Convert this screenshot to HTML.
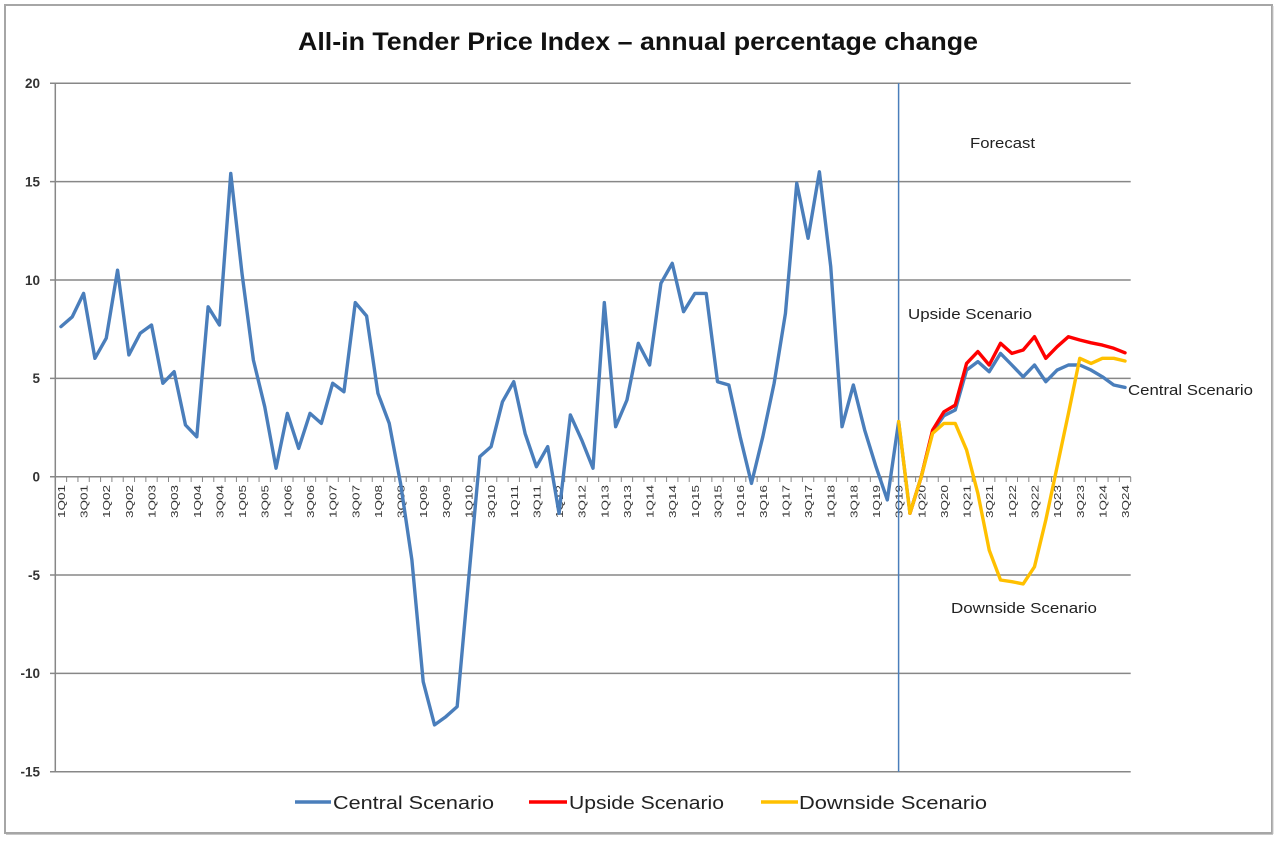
<!DOCTYPE html>
<html>
<head>
<meta charset="utf-8">
<style>
html,body{margin:0;padding:0;background:#fff;}
svg{display:block;}
text{font-family:"Liberation Sans",sans-serif;}
</style>
</head>
<body>
<svg width="1280" height="841" viewBox="0 0 1280 841" xmlns="http://www.w3.org/2000/svg" font-family="Liberation Sans, sans-serif">
<rect x="0" y="0" width="1280" height="841" fill="#fff"/>
<!-- frame -->
<rect x="5" y="5" width="1267" height="828" fill="#fff" stroke="#a6a6a6" stroke-width="2"/>
<line x1="1273" y1="6" x2="1273" y2="834" stroke="#c8c8c8" stroke-width="1"/>
<line x1="6" y1="834.5" x2="1273" y2="834.5" stroke="#c8c8c8" stroke-width="1"/>

<!-- title -->
<text x="298" y="50" font-family="Liberation Sans, sans-serif" font-size="25" font-weight="bold" fill="#111" textLength="680" lengthAdjust="spacingAndGlyphs">All-in Tender Price Index – annual percentage change</text>

<!-- gridlines -->
<g stroke="#878787" stroke-width="1.5">
<line x1="50" y1="83.3" x2="1130.7" y2="83.3"/>
<line x1="50" y1="181.65" x2="1130.7" y2="181.65"/>
<line x1="50" y1="280" x2="1130.7" y2="280"/>
<line x1="50" y1="378.35" x2="1130.7" y2="378.35"/>
<line x1="50" y1="476.7" x2="1130.7" y2="476.7"/>
<line x1="50" y1="575.05" x2="1130.7" y2="575.05"/>
<line x1="50" y1="673.4" x2="1130.7" y2="673.4"/>
<line x1="50" y1="771.75" x2="1130.7" y2="771.75"/>
<line x1="55.3" y1="83.3" x2="55.3" y2="771.75"/>
</g>
<!-- x tick marks -->
<line x1="54.8" y1="479.5" x2="1131.5" y2="479.5" stroke="#878787" stroke-width="5" stroke-dasharray="1 10.32"/>

<!-- y labels -->
<g font-family="Liberation Sans, sans-serif" font-size="13.5" fill="#333" text-anchor="end" font-weight="bold">
<text x="40" y="88">20</text>
<text x="40" y="186.5">15</text>
<text x="40" y="285">10</text>
<text x="40" y="383">5</text>
<text x="40" y="481.5">0</text>
<text x="40" y="580">-5</text>
<text x="40" y="678">-10</text>
<text x="40" y="776.5">-15</text>
</g>

<!-- x labels -->
<g font-family="Liberation Sans, sans-serif" font-size="10.5" fill="#333" text-anchor="end">
<text transform="translate(64.96,485) rotate(-90)" textLength="33" lengthAdjust="spacingAndGlyphs">1Q01</text>
<text transform="translate(87.60,485) rotate(-90)" textLength="33" lengthAdjust="spacingAndGlyphs">3Q01</text>
<text transform="translate(110.24,485) rotate(-90)" textLength="33" lengthAdjust="spacingAndGlyphs">1Q02</text>
<text transform="translate(132.88,485) rotate(-90)" textLength="33" lengthAdjust="spacingAndGlyphs">3Q02</text>
<text transform="translate(155.52,485) rotate(-90)" textLength="33" lengthAdjust="spacingAndGlyphs">1Q03</text>
<text transform="translate(178.16,485) rotate(-90)" textLength="33" lengthAdjust="spacingAndGlyphs">3Q03</text>
<text transform="translate(200.80,485) rotate(-90)" textLength="33" lengthAdjust="spacingAndGlyphs">1Q04</text>
<text transform="translate(223.44,485) rotate(-90)" textLength="33" lengthAdjust="spacingAndGlyphs">3Q04</text>
<text transform="translate(246.08,485) rotate(-90)" textLength="33" lengthAdjust="spacingAndGlyphs">1Q05</text>
<text transform="translate(268.72,485) rotate(-90)" textLength="33" lengthAdjust="spacingAndGlyphs">3Q05</text>
<text transform="translate(291.36,485) rotate(-90)" textLength="33" lengthAdjust="spacingAndGlyphs">1Q06</text>
<text transform="translate(314.00,485) rotate(-90)" textLength="33" lengthAdjust="spacingAndGlyphs">3Q06</text>
<text transform="translate(336.64,485) rotate(-90)" textLength="33" lengthAdjust="spacingAndGlyphs">1Q07</text>
<text transform="translate(359.28,485) rotate(-90)" textLength="33" lengthAdjust="spacingAndGlyphs">3Q07</text>
<text transform="translate(381.92,485) rotate(-90)" textLength="33" lengthAdjust="spacingAndGlyphs">1Q08</text>
<text transform="translate(404.56,485) rotate(-90)" textLength="33" lengthAdjust="spacingAndGlyphs">3Q08</text>
<text transform="translate(427.20,485) rotate(-90)" textLength="33" lengthAdjust="spacingAndGlyphs">1Q09</text>
<text transform="translate(449.84,485) rotate(-90)" textLength="33" lengthAdjust="spacingAndGlyphs">3Q09</text>
<text transform="translate(472.48,485) rotate(-90)" textLength="33" lengthAdjust="spacingAndGlyphs">1Q10</text>
<text transform="translate(495.12,485) rotate(-90)" textLength="33" lengthAdjust="spacingAndGlyphs">3Q10</text>
<text transform="translate(517.76,485) rotate(-90)" textLength="33" lengthAdjust="spacingAndGlyphs">1Q11</text>
<text transform="translate(540.40,485) rotate(-90)" textLength="33" lengthAdjust="spacingAndGlyphs">3Q11</text>
<text transform="translate(563.04,485) rotate(-90)" textLength="33" lengthAdjust="spacingAndGlyphs">1Q12</text>
<text transform="translate(585.68,485) rotate(-90)" textLength="33" lengthAdjust="spacingAndGlyphs">3Q12</text>
<text transform="translate(608.32,485) rotate(-90)" textLength="33" lengthAdjust="spacingAndGlyphs">1Q13</text>
<text transform="translate(630.96,485) rotate(-90)" textLength="33" lengthAdjust="spacingAndGlyphs">3Q13</text>
<text transform="translate(653.60,485) rotate(-90)" textLength="33" lengthAdjust="spacingAndGlyphs">1Q14</text>
<text transform="translate(676.24,485) rotate(-90)" textLength="33" lengthAdjust="spacingAndGlyphs">3Q14</text>
<text transform="translate(698.88,485) rotate(-90)" textLength="33" lengthAdjust="spacingAndGlyphs">1Q15</text>
<text transform="translate(721.52,485) rotate(-90)" textLength="33" lengthAdjust="spacingAndGlyphs">3Q15</text>
<text transform="translate(744.16,485) rotate(-90)" textLength="33" lengthAdjust="spacingAndGlyphs">1Q16</text>
<text transform="translate(766.80,485) rotate(-90)" textLength="33" lengthAdjust="spacingAndGlyphs">3Q16</text>
<text transform="translate(789.44,485) rotate(-90)" textLength="33" lengthAdjust="spacingAndGlyphs">1Q17</text>
<text transform="translate(812.08,485) rotate(-90)" textLength="33" lengthAdjust="spacingAndGlyphs">3Q17</text>
<text transform="translate(834.72,485) rotate(-90)" textLength="33" lengthAdjust="spacingAndGlyphs">1Q18</text>
<text transform="translate(857.36,485) rotate(-90)" textLength="33" lengthAdjust="spacingAndGlyphs">3Q18</text>
<text transform="translate(880.00,485) rotate(-90)" textLength="33" lengthAdjust="spacingAndGlyphs">1Q19</text>
<text transform="translate(902.64,485) rotate(-90)" textLength="33" lengthAdjust="spacingAndGlyphs">3Q19</text>
<text transform="translate(925.28,485) rotate(-90)" textLength="33" lengthAdjust="spacingAndGlyphs">1Q20</text>
<text transform="translate(947.92,485) rotate(-90)" textLength="33" lengthAdjust="spacingAndGlyphs">3Q20</text>
<text transform="translate(970.56,485) rotate(-90)" textLength="33" lengthAdjust="spacingAndGlyphs">1Q21</text>
<text transform="translate(993.20,485) rotate(-90)" textLength="33" lengthAdjust="spacingAndGlyphs">3Q21</text>
<text transform="translate(1015.84,485) rotate(-90)" textLength="33" lengthAdjust="spacingAndGlyphs">1Q22</text>
<text transform="translate(1038.48,485) rotate(-90)" textLength="33" lengthAdjust="spacingAndGlyphs">3Q22</text>
<text transform="translate(1061.12,485) rotate(-90)" textLength="33" lengthAdjust="spacingAndGlyphs">1Q23</text>
<text transform="translate(1083.76,485) rotate(-90)" textLength="33" lengthAdjust="spacingAndGlyphs">3Q23</text>
<text transform="translate(1106.40,485) rotate(-90)" textLength="33" lengthAdjust="spacingAndGlyphs">1Q24</text>
<text transform="translate(1129.04,485) rotate(-90)" textLength="33" lengthAdjust="spacingAndGlyphs">3Q24</text>
</g>

<!-- forecast divider -->
<line x1="898.6" y1="83.3" x2="898.6" y2="771.75" stroke="#4a7ebb" stroke-width="1.5"/>

<!-- central -->
<polyline fill="none" stroke="#4a7ebb" stroke-width="3.4" stroke-linejoin="round" stroke-linecap="round" points="
60.96,326.6 72.28,316.8 83.60,293.4 94.92,358.3 106.24,338.2 117.56,270.2 128.88,354.9 140.20,333.3 151.52,325.0 162.84,383.3
174.16,371.7 185.48,425.0 196.80,436.8 208.12,306.8 219.44,325.0 230.76,173.4 242.08,274.1 253.40,360.1 264.72,406.7 276.04,468.2
287.36,413.4 298.68,448.4 310.00,413.4 321.32,423.4 332.64,383.3 343.96,391.7 355.28,302.6 366.60,316.0 377.92,393.3 389.24,423.4
400.56,483.4 411.88,559.9 423.20,681.7 434.52,724.9 445.84,716.7 457.16,706.6 468.48,581.0 479.80,456.6 491.12,446.6 502.44,401.8
513.76,381.7 525.08,433.4 536.40,466.7 547.72,446.6 559.04,513.3 570.36,414.9 581.68,439.9 593.00,468.2 604.32,302.6 615.64,426.7
626.96,400.0 638.28,343.3 649.60,365.0 660.92,283.3 672.24,263.3 683.56,311.7 694.88,293.4 706.20,293.4 717.52,381.7 728.84,385.0
740.16,436.8 751.48,483.4 762.80,436.8 774.12,383.3 785.44,313.4 796.76,183.2 808.08,238.3 819.40,171.8 830.72,266.6 842.04,426.7
853.36,385.0 864.68,430.1 876.00,466.7 887.32,499.9 898.64,421.6 909.96,513.3 921.28,476.7 932.60,431.7 943.92,415.7 955.24,410.0
966.56,370.1 977.88,361.6 989.20,371.7 1000.52,353.4 1011.84,365.0 1023.16,376.8 1034.48,365.0 1045.80,381.7 1057.12,370.1 1068.44,365.0
1079.76,365.0 1091.08,370.1 1102.40,376.8 1113.72,385.0 1125.04,387.4"/>

<!-- upside -->
<polyline fill="none" stroke="#ff0000" stroke-width="3.4" stroke-linejoin="round" stroke-linecap="round" points="
909.96,513.3 921.28,476.7 932.60,430.1 943.92,411.8 955.24,405.1 966.56,363.4 977.88,351.6 989.20,365.0 1000.52,343.3 1011.84,353.4
1023.16,350.0 1034.48,336.7 1045.80,358.3 1057.12,346.7 1068.44,336.7 1079.76,340.0 1091.08,342.8 1102.40,345.1 1113.72,348.3 1125.04,352.8"/>

<!-- downside -->
<polyline fill="none" stroke="#ffc000" stroke-width="3.4" stroke-linejoin="round" stroke-linecap="round" points="
898.64,421.6 909.96,513.3 921.28,476.7 932.60,433.4 943.92,423.4 955.24,423.4 966.56,449.9 977.88,493.4 989.20,550.1 1000.52,580.0
1011.84,581.7 1023.16,583.9 1034.48,566.8 1045.80,520.0 1057.12,466.7 1068.44,413.4 1079.76,358.3 1091.08,363.4 1102.40,358.3 1113.72,358.3 1125.04,361.0"/>

<!-- annotations -->
<g font-family="Liberation Sans, sans-serif" font-size="15" fill="#222">
<text x="970" y="148" textLength="65" lengthAdjust="spacingAndGlyphs">Forecast</text>
<text x="908" y="319" textLength="124" lengthAdjust="spacingAndGlyphs">Upside Scenario</text>
<text x="1128" y="395" textLength="125" lengthAdjust="spacingAndGlyphs">Central Scenario</text>
<text x="951" y="613" textLength="146" lengthAdjust="spacingAndGlyphs">Downside Scenario</text>
</g>

<!-- legend -->
<g stroke-width="3.4">
<line x1="295" y1="802" x2="331" y2="802" stroke="#4a7ebb"/>
<line x1="529" y1="802" x2="567" y2="802" stroke="#ff0000"/>
<line x1="761" y1="802" x2="798" y2="802" stroke="#ffc000"/>
</g>
<g font-family="Liberation Sans, sans-serif" font-size="18" fill="#222">
<text x="333" y="809" textLength="161" lengthAdjust="spacingAndGlyphs">Central Scenario</text>
<text x="569" y="809" textLength="155" lengthAdjust="spacingAndGlyphs">Upside Scenario</text>
<text x="799" y="809" textLength="188" lengthAdjust="spacingAndGlyphs">Downside Scenario</text>
</g>
</svg>
</body>
</html>
